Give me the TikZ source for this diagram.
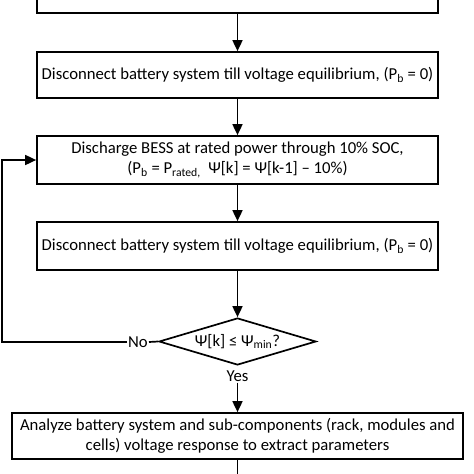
\documentclass[tikz,border=0pt]{standalone}
\usepackage{fontspec}
\setmainfont{Carlito}
\usetikzlibrary{shapes.geometric,arrows.meta}
\tikzset{
  stepbox/.style={draw, line width=1.7pt, minimum width=401pt, minimum height=46pt, inner sep=2pt, align=center, font=\fontsize{16.7}{20}\selectfont},
  decision/.style={draw, diamond, line width=1.7pt, minimum width=157pt, minimum height=47pt, aspect=3.3, inner sep=0pt, font=\fontsize{16.7}{20}\selectfont},
  conn/.style={line width=1.7pt, -{Triangle[length=11pt,width=10pt]}},
  plainline/.style={line width=1.7pt},
  lbl/.style={font=\fontsize{16.7}{20}\selectfont, inner sep=1pt}
}
\begin{document}
\begin{tikzpicture}[x=1pt,y=-1pt]
\useasboundingbox (0,0) rectangle (474,474);
\clip (0,0) rectangle (474,474);
\node[stepbox, minimum height=60pt] (b1) at (237.5,-17) {};
\node[stepbox] (b2) at (237.5,75) {Disconnect battery system till voltage equilibrium, (P\textsubscript{b} = 0)};
\node[stepbox, minimum height=48pt] (b3) at (237.5,160) {Discharge BESS at rated power through 10\% SOC,\\(P\textsubscript{b} = P\textsubscript{rated,}\ \ Ψ[k] = Ψ[k-1] – 10\%)};
\node[stepbox, minimum height=48pt] (b4) at (237.5,246) {Disconnect battery system till voltage equilibrium, (P\textsubscript{b} = 0)};
\node[decision] (d) at (237.5,341.5) {Ψ[k] ≤ Ψ\textsubscript{min}?};
\node[lbl] (no) at (138,342) {No};
\node[lbl] (yes) at (237.5,376) {Yes};
\node[stepbox, minimum width=451pt] (b5) at (237.5,436) {Analyze battery system and sub-components (rack, modules and\\cells) voltage response to extract parameters};
\coordinate (cl) at (2,342);
\coordinate (cb) at (237.5,480);
\draw[conn] (b1) -- (b2);
\draw[conn] (b2) -- (b3);
\draw[conn] (b3) -- (b4);
\draw[conn] (b4) -- (d);
\draw[plainline] (d.west) -- (no.east);
\draw[conn] (no.west) -- (cl) |- (b3.west);
\draw[conn] (yes.south) -- (b5.north);
\draw[plainline] (b5.south) -- (cb);
\end{tikzpicture}
\end{document}
